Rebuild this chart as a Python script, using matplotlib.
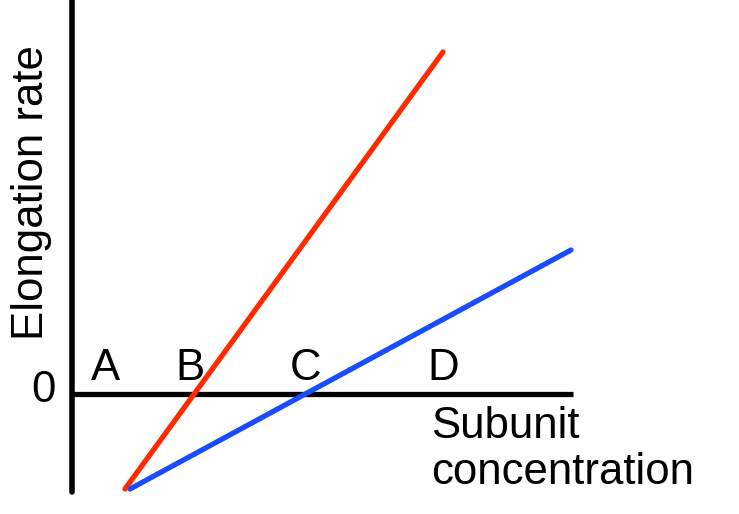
import matplotlib
matplotlib.use("Agg")
import matplotlib.pyplot as plt

# Concentration (x) and elongation rate (y), arbitrary units
red_x = [0.53, 3.71]
red_y = [-0.95, 3.42]
blue_x = [0.58, 4.99]
blue_y = [-0.95, 1.44]

point_labels = ["A", "B", "C", "D"]
point_x = [0.33, 1.18, 2.34, 3.71]

plt.rcParams["font.family"] = ["Liberation Sans", "DejaVu Sans"]
fs = 31.5

fig = plt.figure(figsize=(7.39, 5.14), dpi=100)
ax = fig.add_axes([0, 0, 1, 1])
ax.set_xlim(-0.72, 6.67)
ax.set_ylim(-1.20, 3.94)
ax.axis("off")

# axes drawn by hand
ax.plot([0, 0], [-0.98, 3.94], color="black", lw=4, solid_capstyle="round")
ax.plot([0, 5.01], [0, 0], color="black", lw=3.8, solid_capstyle="butt")

ax.plot(red_x, red_y, color="#ff2a00", lw=3.8, solid_capstyle="round")
ax.plot(blue_x, blue_y, color="#1a4cff", lw=3.8, solid_capstyle="round")

for lab, x in zip(point_labels, point_x):
    ax.text(x, 0.14, lab, fontsize=fs, ha="center", va="baseline")

ax.text(-0.29, 0.03, "0", fontsize=fs, ha="center", va="center")
ax.text(-0.29, 2.015, "Elongation rate", fontsize=fs, rotation=90,
        rotation_mode="anchor", ha="center", va="baseline")
ax.text(3.59, -0.44, "Subunit", fontsize=fs, ha="left", va="baseline")
ax.text(3.59, -0.90, "concentration", fontsize=fs, ha="left", va="baseline")

fig.savefig("out.png", dpi=100)
